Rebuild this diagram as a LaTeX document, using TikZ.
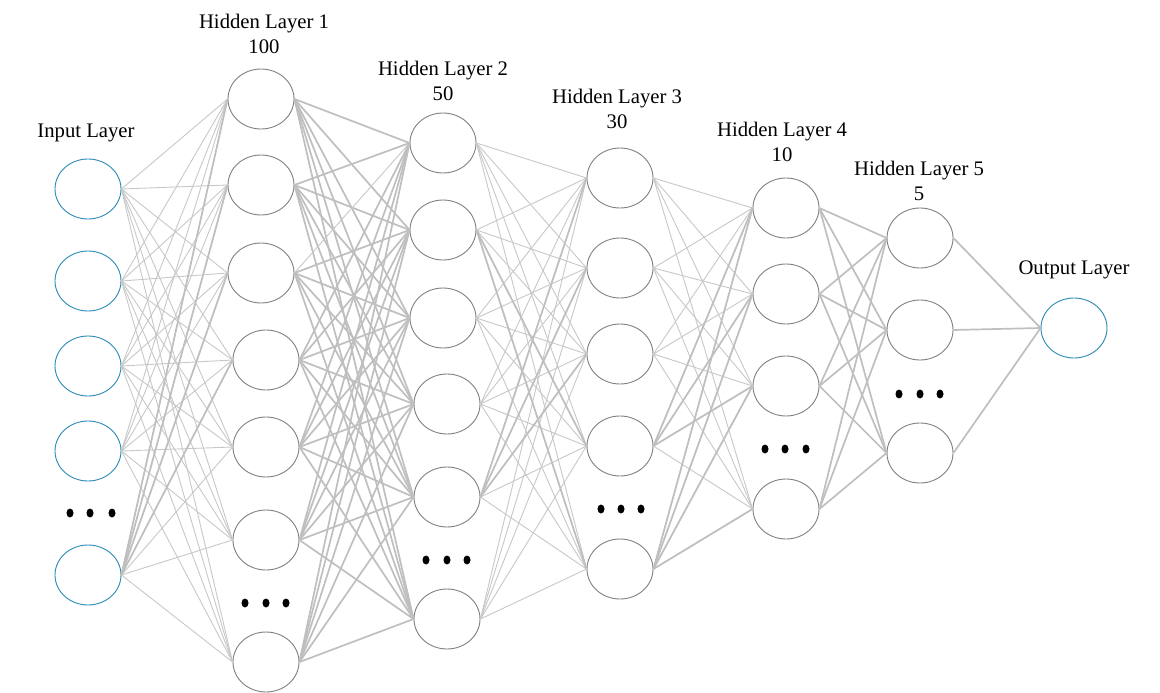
\documentclass[tikz,border=0pt]{standalone}
\usepackage{fontspec}
\setmainfont{Liberation Serif}
\usetikzlibrary{shapes.geometric}

\definecolor{ringgray}{HTML}{808080}
\definecolor{ringblue}{HTML}{2A8BB7}
\definecolor{wiregray}{HTML}{C8C8C8}
\definecolor{heavygray}{HTML}{BFBFBF}

\begin{document}
\begin{tikzpicture}[x=1pt, y=-1pt, neuron/.style={ellipse, draw=ringgray, line width=0.9pt, fill=white, minimum width=66pt, minimum height=60pt, inner sep=0pt}, ionode/.style={neuron, draw=ringblue}, wire/.style={wiregray, line width=0.9pt}, heavywire/.style={heavygray, line width=1.7pt}, layerlabel/.style={align=center, inner sep=0pt, font=\fontsize{20.7}{25}\selectfont}]

  \fill[white] (0,0) rectangle (1160,693);

  % layers
  \foreach \y [count=\i] in {189,281,366,451,575}
    \node[ionode] (in\i) at (88,\y) {};
  \foreach \x/\y [count=\i] in {261/99,261/185,261/273,266/360,266/447,266/540,266/662}
    \node[neuron] (h1n\i) at (\x,\y) {};
  \foreach \x/\y [count=\i] in {443/143,443/230,443/318,447/404,447/497,447/619}
    \node[neuron] (h2n\i) at (\x,\y) {};
  \foreach \y [count=\i] in {178,268,354,446,569}
    \node[neuron] (h3n\i) at (620,\y) {};
  \foreach \y [count=\i] in {208,294,386,509}
    \node[neuron] (h4n\i) at (786,\y) {};
  \foreach \y [count=\i] in {238,330,453}
    \node[neuron] (h5n\i) at (920,\y) {};
  \node[ionode] (out) at (1074,328) {};

  % labels
  \node[layerlabel] (inlabel) at (86,133) {Input Layer};
  \node[layerlabel] (h1label) at (264,33.5) {Hidden Layer 1\\100};
  \node[layerlabel] (h2label) at (443,80.5) {Hidden Layer 2\\50};
  \node[layerlabel] (h3label) at (617,108.5) {Hidden Layer 3\\30};
  \node[layerlabel] (h4label) at (782,141.5) {Hidden Layer 4\\10};
  \node[layerlabel] (h5label) at (919,180.5) {Hidden Layer 5\\5};
  \node[layerlabel] (outlabel) at (1074,270) {Output Layer};

  % dots
  \foreach \x/\y in {70/513,90/513,112/513, 245/603,266/603,286/603, 426/560,447/560,467/560, 601/509,621/509,641/509, 765/449,785/449,806/449, 899/394,920/394,940/394}
    \fill[black] (\x,\y) ellipse (3.5pt and 4.5pt);

  % input -> hidden 1
  \foreach \s in {1,...,5}
    \foreach \t in {1,...,7}
      \draw[wire] (in\s.east) -- (h1n\t.west);
  \foreach \t in {1,...,4}
    \draw[heavywire] (in5.east) -- (h1n\t.west);

  % hidden 1 -> hidden 2
  \foreach \s in {1,...,7}
    \foreach \t in {1,...,6}
      {\ifnum\s\t=31 \draw[wire] (h1n\s.east) -- (h2n\t.west);
       \else \draw[heavywire] (h1n\s.east) -- (h2n\t.west); \fi}

  % hidden 2 -> hidden 3
  \foreach \s in {1,...,6}
    \foreach \t in {1,...,5}
      \draw[wire] (h2n\s.east) -- (h3n\t.west);
  \foreach \s/\t in {5/1,5/2,5/3,2/4,2/5}
    \draw[heavywire] (h2n\s.east) -- (h3n\t.west);

  % hidden 3 -> hidden 4
  \foreach \s in {1,...,5}
    \foreach \t in {1,...,4}
      \draw[wire] (h3n\s.east) -- (h4n\t.west);
  \foreach \s/\t in {4/1,4/2,4/3,5/1,5/2,5/3,5/4}
    \draw[heavywire] (h3n\s.east) -- (h4n\t.west);

  % hidden 4 -> hidden 5 -> output
  \foreach \s in {1,...,4}
    \foreach \t in {1,...,3}
      \draw[heavywire] (h4n\s.east) -- (h5n\t.west);
  \foreach \s in {1,...,3}
    \draw[heavywire] (h5n\s.east) -- (out.west);

\end{tikzpicture}
\end{document}
